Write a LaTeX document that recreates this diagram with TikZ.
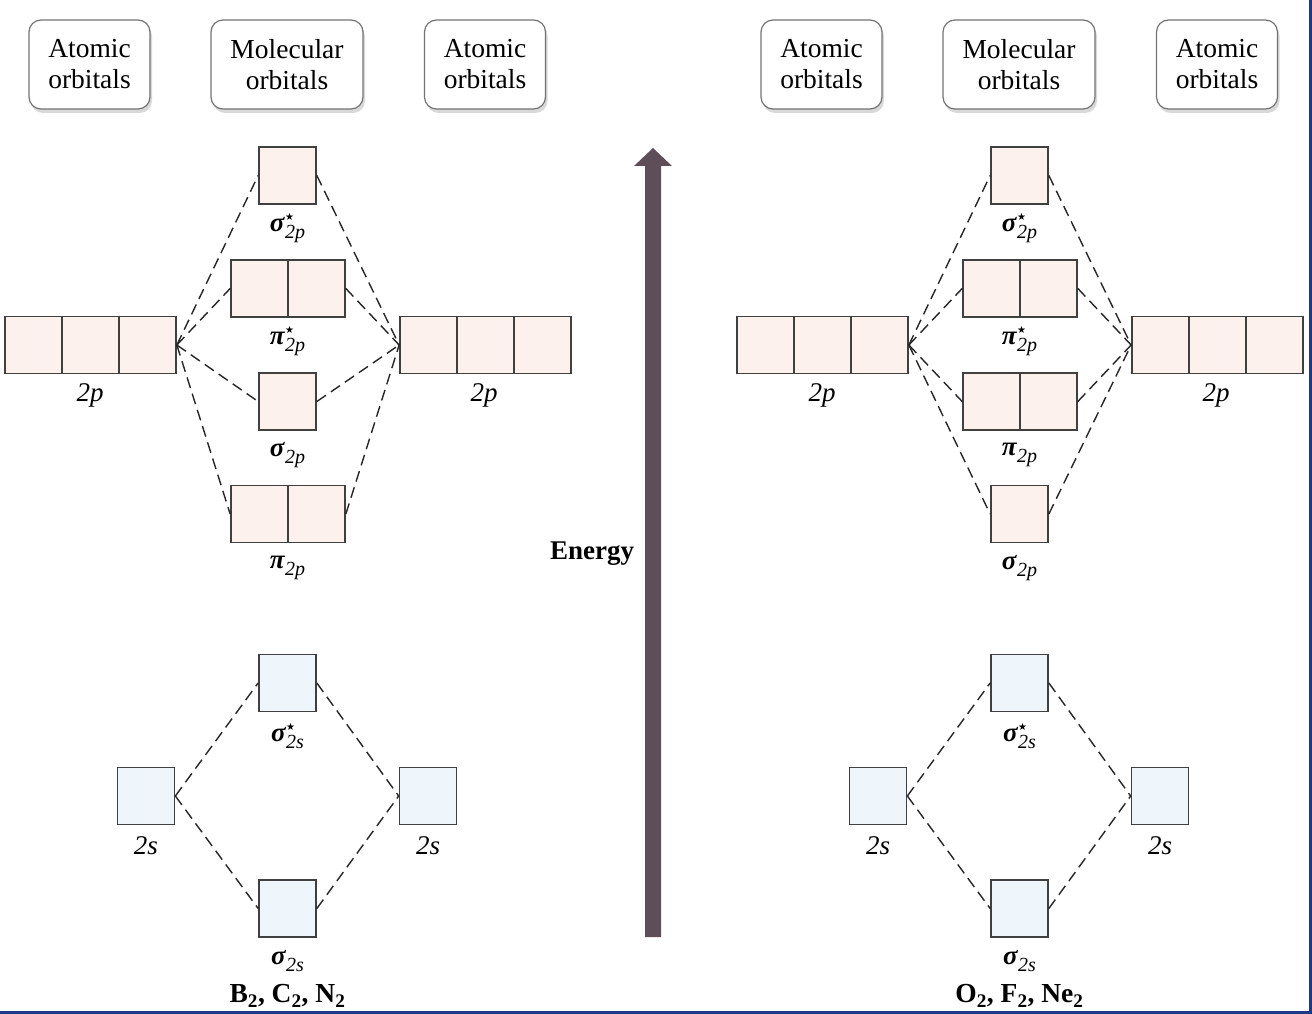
\documentclass[tikz,border=0pt]{standalone}
\usepackage{fontspec}
\setmainfont{Liberation Serif}
\newfontfamily\symfont{DejaVu Sans}
\usetikzlibrary{shadows}

\definecolor{pfill}{RGB}{252,241,237}
\definecolor{sfill}{RGB}{238,246,251}
\definecolor{energyc}{RGB}{94,78,88}
\definecolor{framec}{RGB}{31,56,140}
% orbital label: letter, subscript, superscript
\newcommand{\mo}[3]{\textbf{\textit{#1}}\rlap{\raisebox{11pt}{\fontsize{10}{10}\selectfont\symfont #3}}\raisebox{-0.55ex}{\fontsize{20}{20}\selectfont\textit{#2}}}

\begin{document}
\begin{tikzpicture}[x=1pt, y=-1pt, line width=1.7pt,
  hdr/.style={draw=black!55, line width=1.2pt, fill=white, rounded corners=12pt, minimum width=121pt, minimum height=89pt, align=center, font=\fontsize{27.5}{31}\selectfont, drop shadow={shadow xshift=2pt, shadow yshift=-4pt, opacity=0.3}},
  orb/.style={draw=black!75, minimum height=57pt, minimum width=#1, inner sep=0pt},
  orb/.default=57pt,
  porb/.style={orb=#1, fill=pfill}, porb/.default=57pt,
  sorb/.style={orb=57pt, fill=sfill},
  lbl/.style={font=\fontsize{27}{30}\selectfont},
  conn/.style={dash pattern=on 11pt off 6pt, line width=1.4pt, color=black!85}]
\useasboundingbox (0,0) rectangle (1312,1014);
% ---- B2, C2, N2
\node[hdr] (atoA) at (89.5,64.5) {Atomic\\orbitals};
\node[hdr, minimum width=152pt] (molA) at (287,64.5) {Molecular\\orbitals};
\node[hdr] (atoB) at (485,64.5) {Atomic\\orbitals};
\node[porb=171pt] (a2pL) at (90.5,345) {};
\node[porb=171pt] (a2pR) at (485.5,345) {};
\node[porb] (aSs) at (287.5,175.5) {};
\node[porb=114pt] (aPs) at (288,288.5) {};
\node[porb] (aS) at (287.5,401.5) {};
\node[porb=114pt] (aP) at (288,514) {};
\foreach \n in {a2pL,a2pR} {
  \draw[draw=black!75] ([xshift=-28.5pt]\n.north) -- ([xshift=-28.5pt]\n.south);
  \draw[draw=black!75] ([xshift=28.5pt]\n.north) -- ([xshift=28.5pt]\n.south);
}
\foreach \n in {aPs,aP} \draw[draw=black!75] (\n.north) -- (\n.south);
\foreach \n in {aSs,aPs,aS,aP} {
  \draw[conn] (a2pL.east) -- (\n.west);
  \draw[conn] (\n.east) -- (a2pR.west);
}
\node[lbl] at (287.5,228) {\mo{σ}{2p}{★}};
\node[lbl] at (287.5,341) {\mo{π}{2p}{★}};
\node[lbl] at (287.5,455) {\mo{σ}{2p}{}};
\node[lbl] at (287.5,568) {\mo{π}{2p}{}};
\node[lbl] at (90,395) {\textit{2p}};
\node[lbl] at (484,395) {\textit{2p}};
\node[sorb] (aSss) at (287.5,683) {};
\node[sorb] (a2sL) at (146,796) {};
\node[sorb] (a2sR) at (428,796) {};
\node[sorb] (aSs2) at (287.5,908.5) {};
\foreach \n in {aSss,aSs2} {
  \draw[conn] (a2sL.east) -- (\n.west);
  \draw[conn] (\n.east) -- (a2sR.west);
}
\node[lbl] at (287.5,736) {\mo{σ}{2s}{★}};
\node[lbl] at (146,846) {\textit{2s}};
\node[lbl] at (428,846) {\textit{2s}};
\node[lbl] at (287.5,961) {\mo{σ}{2s}{}};
\node[lbl, font=\fontsize{27.5}{30}\selectfont\bfseries] at (287.5,996) {B\textsubscript{2}, C\textsubscript{2}, N\textsubscript{2}};
% ---- energy axis
\fill[energyc] (645,937) -- (645,166) -- (634,166) -- (653,148) -- (672,166) -- (661,166) -- (661,937) -- cycle;
\node[font=\fontsize{27}{30}\selectfont\bfseries] (energy) at (592,554) {Energy};
% ---- O2, F2, Ne2
\begin{scope}[shift={(732,0)}]
\node[hdr] (atoC) at (89.5,64.5) {Atomic\\orbitals};
\node[hdr, minimum width=152pt] (molB) at (287,64.5) {Molecular\\orbitals};
\node[hdr] (atoD) at (485,64.5) {Atomic\\orbitals};
\node[porb=171pt] (b2pL) at (90.5,345) {};
\node[porb=171pt] (b2pR) at (485.5,345) {};
\node[porb] (bSs) at (287.5,175.5) {};
\node[porb=114pt] (bPs) at (288,288.5) {};
\node[porb=114pt] (bP) at (288,401.5) {};
\node[porb] (bS) at (287.5,514) {};
\foreach \n in {b2pL,b2pR} {
  \draw[draw=black!75] ([xshift=-28.5pt]\n.north) -- ([xshift=-28.5pt]\n.south);
  \draw[draw=black!75] ([xshift=28.5pt]\n.north) -- ([xshift=28.5pt]\n.south);
}
\foreach \n in {bPs,bP} \draw[draw=black!75] (\n.north) -- (\n.south);
\foreach \n in {bSs,bPs,bP,bS} {
  \draw[conn] (b2pL.east) -- (\n.west);
  \draw[conn] (\n.east) -- (b2pR.west);
}
\node[lbl] at (287.5,228) {\mo{σ}{2p}{★}};
\node[lbl] at (287.5,341) {\mo{π}{2p}{★}};
\node[lbl] at (287.5,455) {\mo{π}{2p}{}};
\node[lbl] at (287.5,568) {\mo{σ}{2p}{}};
\node[lbl] at (90,395) {\textit{2p}};
\node[lbl] at (484,395) {\textit{2p}};
\node[sorb] (bSss) at (287.5,683) {};
\node[sorb] (b2sL) at (146,796) {};
\node[sorb] (b2sR) at (428,796) {};
\node[sorb] (bSs2) at (287.5,908.5) {};
\foreach \n in {bSss,bSs2} {
  \draw[conn] (b2sL.east) -- (\n.west);
  \draw[conn] (\n.east) -- (b2sR.west);
}
\node[lbl] at (287.5,736) {\mo{σ}{2s}{★}};
\node[lbl] at (146,846) {\textit{2s}};
\node[lbl] at (428,846) {\textit{2s}};
\node[lbl] at (287.5,961) {\mo{σ}{2s}{}};
\node[lbl, font=\fontsize{27.5}{30}\selectfont\bfseries] at (287.5,996) {O\textsubscript{2}, F\textsubscript{2}, Ne\textsubscript{2}};
\end{scope}
% ---- frame
\draw[framec, line width=3pt] (1310.5,0) -- (1310.5,1012.5) -- (0,1012.5);
\end{tikzpicture}
\end{document}
